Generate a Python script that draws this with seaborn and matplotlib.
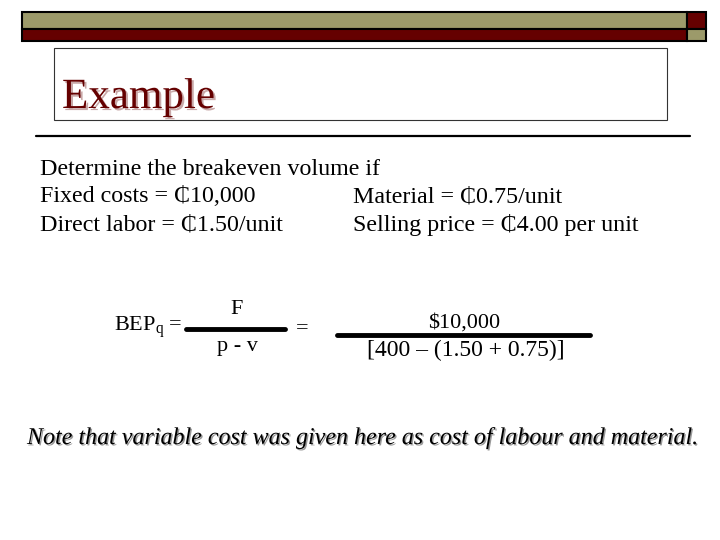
import matplotlib
matplotlib.use("Agg")
import matplotlib.pyplot as plt
import matplotlib.patheffects as pe
from matplotlib.patches import Rectangle
import seaborn as sns

sns.set_theme(style="white")
plt.rcParams['font.family'] = ['Liberation Serif', 'DejaVu Serif']

# slide content
title = "Example"
intro = "Determine the breakeven volume if"
left_col = ["Fixed costs = \u20b510,000", "Direct labor = \u20b51.50/unit"]
right_col = ["Material = \u20b50.75/unit", "Selling price = \u20b54.00 per unit"]
formula_lhs = "BEP$_\\mathregular{q}$ ="
formula_num = "F"
formula_den = "p - v"
value_num = "$10,000"
value_den = "[400 \u2013 (1.50 + 0.75)]"
note = "Note that variable cost was given here as cost of labour and material."

olive = "#9c9a6a"
maroon = "#650000"

fig = plt.figure(figsize=(7.2, 5.4), dpi=100)
ax = fig.add_axes([0, 0, 1, 1])
ax.set_xlim(0, 720)
ax.set_ylim(540, 0)
ax.axis("off")

# header bars
ax.add_patch(Rectangle((22, 12), 665, 17, facecolor=olive, edgecolor="black", lw=1.5))
ax.add_patch(Rectangle((22, 29), 665, 12, facecolor=maroon, edgecolor="black", lw=1.5))
ax.add_patch(Rectangle((687, 12), 19, 17, facecolor=maroon, edgecolor="black", lw=1.5))
ax.add_patch(Rectangle((687, 29), 19, 12, facecolor=olive, edgecolor="black", lw=1.5))

# title box
ax.add_patch(Rectangle((54, 48), 613, 72, facecolor="white", edgecolor="#333333", lw=0.8))
ax.text(62, 108, title, fontsize=31, color=maroon, va="baseline",
        path_effects=[pe.withSimplePatchShadow(offset=(1.5, -1.5), shadow_rgbFace="#c8a8a8", alpha=1)])
ax.plot([36, 690], [136, 136], color="black", lw=1.6)

# body text
fs = 17.3
ax.text(40, 175, intro, fontsize=fs, color="black", va="baseline")
for i, (l, r) in enumerate(zip(left_col, right_col)):
    y = 202 + i * 29
    ax.text(40, y, l, fontsize=fs, color="black", va="baseline")
    ax.text(353, y, r, fontsize=fs, color="black", va="baseline")

# formula
ff = 16
ax.text(114, 331, formula_lhs, fontsize=ff, color="black", va="baseline")
ax.text(237, 314, formula_num, fontsize=ff, color="black", va="baseline", ha="center")
ax.plot([186, 285], [329, 329], color="black", lw=3.5)
ax.text(237, 351, formula_den, fontsize=ff, color="black", va="baseline", ha="center")
ax.text(302, 333, "=", fontsize=ff, color="black", va="baseline", ha="center")
ax.text(464, 328, value_num, fontsize=ff, color="black", va="baseline", ha="center")
ax.plot([337, 590], [335, 335], color="black", lw=3.5)
ax.text(466, 356, value_den, fontsize=17, color="black", va="baseline", ha="center")

# note
ax.text(27, 444, note, fontsize=fs, style="italic", color="black", va="baseline",
        path_effects=[pe.withSimplePatchShadow(offset=(1, -1), shadow_rgbFace="#999999", alpha=1)])

fig.savefig("out.png", dpi=100)
